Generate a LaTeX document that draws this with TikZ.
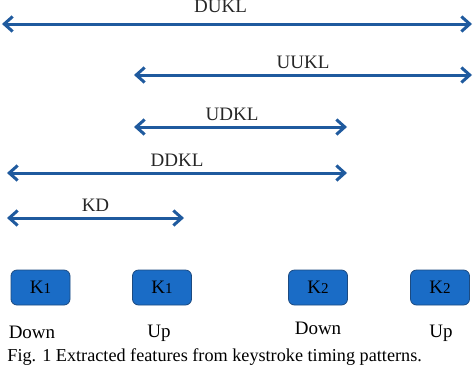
\documentclass[tikz,border=0pt]{standalone}
\usepackage{fontspec}
\setmainfont{Liberation Serif}
\usepackage{xcolor}
\usetikzlibrary{arrows.meta, positioning}
\definecolor{KeyBlue}{HTML}{1A6CC6}
\definecolor{KeyEdge}{HTML}{1C4A80}
\definecolor{SpanBlue}{HTML}{1F5A9E}
\newcommand{\kdig}[1]{{\fontsize{7.5}{9}\selectfont #1}}

\begin{document}
\begin{tikzpicture}[
  x=0.5pt, y=-0.5pt, font=\fontsize{9.5}{11}\selectfont,
  key/.style  = {rectangle, rounded corners=3pt, draw=KeyEdge, fill=KeyBlue,
                 minimum width=29.5pt, minimum height=17.5pt, inner sep=0pt},
  span/.style = {{Straight Barb[length=4.2pt,width=7.5pt]}-{Straight Barb[length=4.2pt,width=7.5pt]},
                 line width=1.5pt, draw=SpanBlue},
  lbl/.style  = {above, inner sep=2.5pt, text=black!85}
]
  \useasboundingbox (0,0) rectangle (474,375);

  % keys
  \node[key] (k1d) at (40.5,287.5) {K\kdig{1}};
  \node[key] (k1u) at (162,287.5)  {K\kdig{1}};
  \node[key] (k2d) at (318,287.5)  {K\kdig{2}};
  \node[key] (k2u) at (440,287.5)  {K\kdig{2}};

  \node (dn1) at (32,332)  {Down};
  \node (up1) at (159,333) {Up};
  \node (dn2) at (318,328) {Down};
  \node (up2) at (441,333) {Up};

  % span end points
  \coordinate (dukl-a) at (2,24);   \coordinate (dukl-b) at (472,24);
  \coordinate (uukl-a) at (134,75); \coordinate (uukl-b) at (472,75);
  \coordinate (udkl-a) at (134,127);\coordinate (udkl-b) at (347,127);
  \coordinate (ddkl-a) at (7,173);  \coordinate (ddkl-b) at (347,173);
  \coordinate (kd-a)   at (7,218);  \coordinate (kd-b)   at (184,218);

  \draw[span] (dukl-a) -- node[lbl, pos=0.465, yshift=2.5pt]{DUKL} (dukl-b);
  \draw[span] (uukl-a) -- node[lbl]{UUKL} (uukl-b);
  \draw[span] (udkl-a) -- node[lbl, pos=0.46]{UDKL} (udkl-b);
  \draw[span] (ddkl-a) -- node[lbl]{DDKL} (ddkl-b);
  \draw[span] (kd-a)   -- node[lbl]{KD} (kd-b);

  \node[anchor=west, inner sep=0pt, font=\fontsize{9.1}{11}\selectfont] (cap) at (7,357)
    {Fig. 1 Extracted features from keystroke timing patterns.};
\end{tikzpicture}
\end{document}
